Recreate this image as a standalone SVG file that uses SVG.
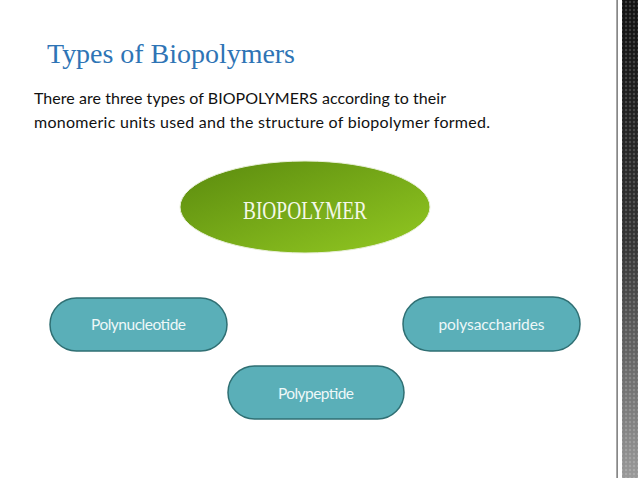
<svg xmlns="http://www.w3.org/2000/svg" width="638" height="478" viewBox="0 0 638 478">
<defs>
<linearGradient id="g" x1="0" y1="0" x2="1" y2="1">
<stop offset="0" stop-color="#5a8a0e"/>
<stop offset="1" stop-color="#93c922"/>
</linearGradient>
<linearGradient id="bar" x1="0" y1="0" x2="0" y2="1">
<stop offset="0" stop-color="#111"/>
<stop offset="0.5" stop-color="#333"/>
<stop offset="1" stop-color="#999"/>
</linearGradient>
<pattern id="dots" width="4" height="4" patternUnits="userSpaceOnUse">
<circle cx="2" cy="2" r="1.2" fill="#fff" fill-opacity="0.18"/>
</pattern>
<style>
.pill{fill:#5aafb8;stroke:#2f6f73;stroke-width:1.5}
.pt{font-family:Lato,"Open Sans",sans-serif;font-size:15.5px;fill:#eef8f8;text-anchor:middle}
.body{font-family:Lato,"Open Sans",sans-serif;font-size:16px;fill:#111}
</style>
</defs>
<rect width="638" height="478" fill="#fff"/>
<rect x="616.5" y="0" width="1.2" height="478" fill="#555"/>
<rect x="622" y="0" width="16" height="478" fill="url(#bar)"/>
<rect x="622" y="0" width="16" height="478" fill="url(#dots)"/>
<text x="47" y="63" font-family="Liberation Serif,serif" font-size="28" fill="#2e74b5" textLength="248">Types of Biopolymers</text>
<text class="body" x="34" y="104" textLength="412">There are three types of BIOPOLYMERS according to their</text>
<text class="body" x="34" y="128" textLength="456">monomeric units used and the structure of biopolymer formed.</text>
<g id="biopolymer">
<ellipse cx="305" cy="207" rx="125" ry="46" fill="url(#g)" stroke="#e8efd8" stroke-width="1"/>
<text x="305" y="219" font-family="Liberation Serif,serif" font-size="26" fill="#f4f8e8" text-anchor="middle" textLength="124" lengthAdjust="spacingAndGlyphs">BIOPOLYMER</text>
</g>
<g id="polynucleotide">
<rect class="pill" x="50" y="298" width="177" height="53" rx="26.5"/>
<text class="pt" x="138.5" y="330" textLength="95">Polynucleotide</text>
</g>
<g id="polysaccharides">
<rect class="pill" x="403" y="297" width="177" height="54" rx="27"/>
<text class="pt" x="491.5" y="330" textLength="106">polysaccharides</text>
</g>
<g id="polypeptide">
<rect class="pill" x="228" y="366" width="176" height="53" rx="26.5"/>
<text class="pt" x="316" y="399" textLength="76">Polypeptide</text>
</g>
<g id="connectors"/>
</svg>
